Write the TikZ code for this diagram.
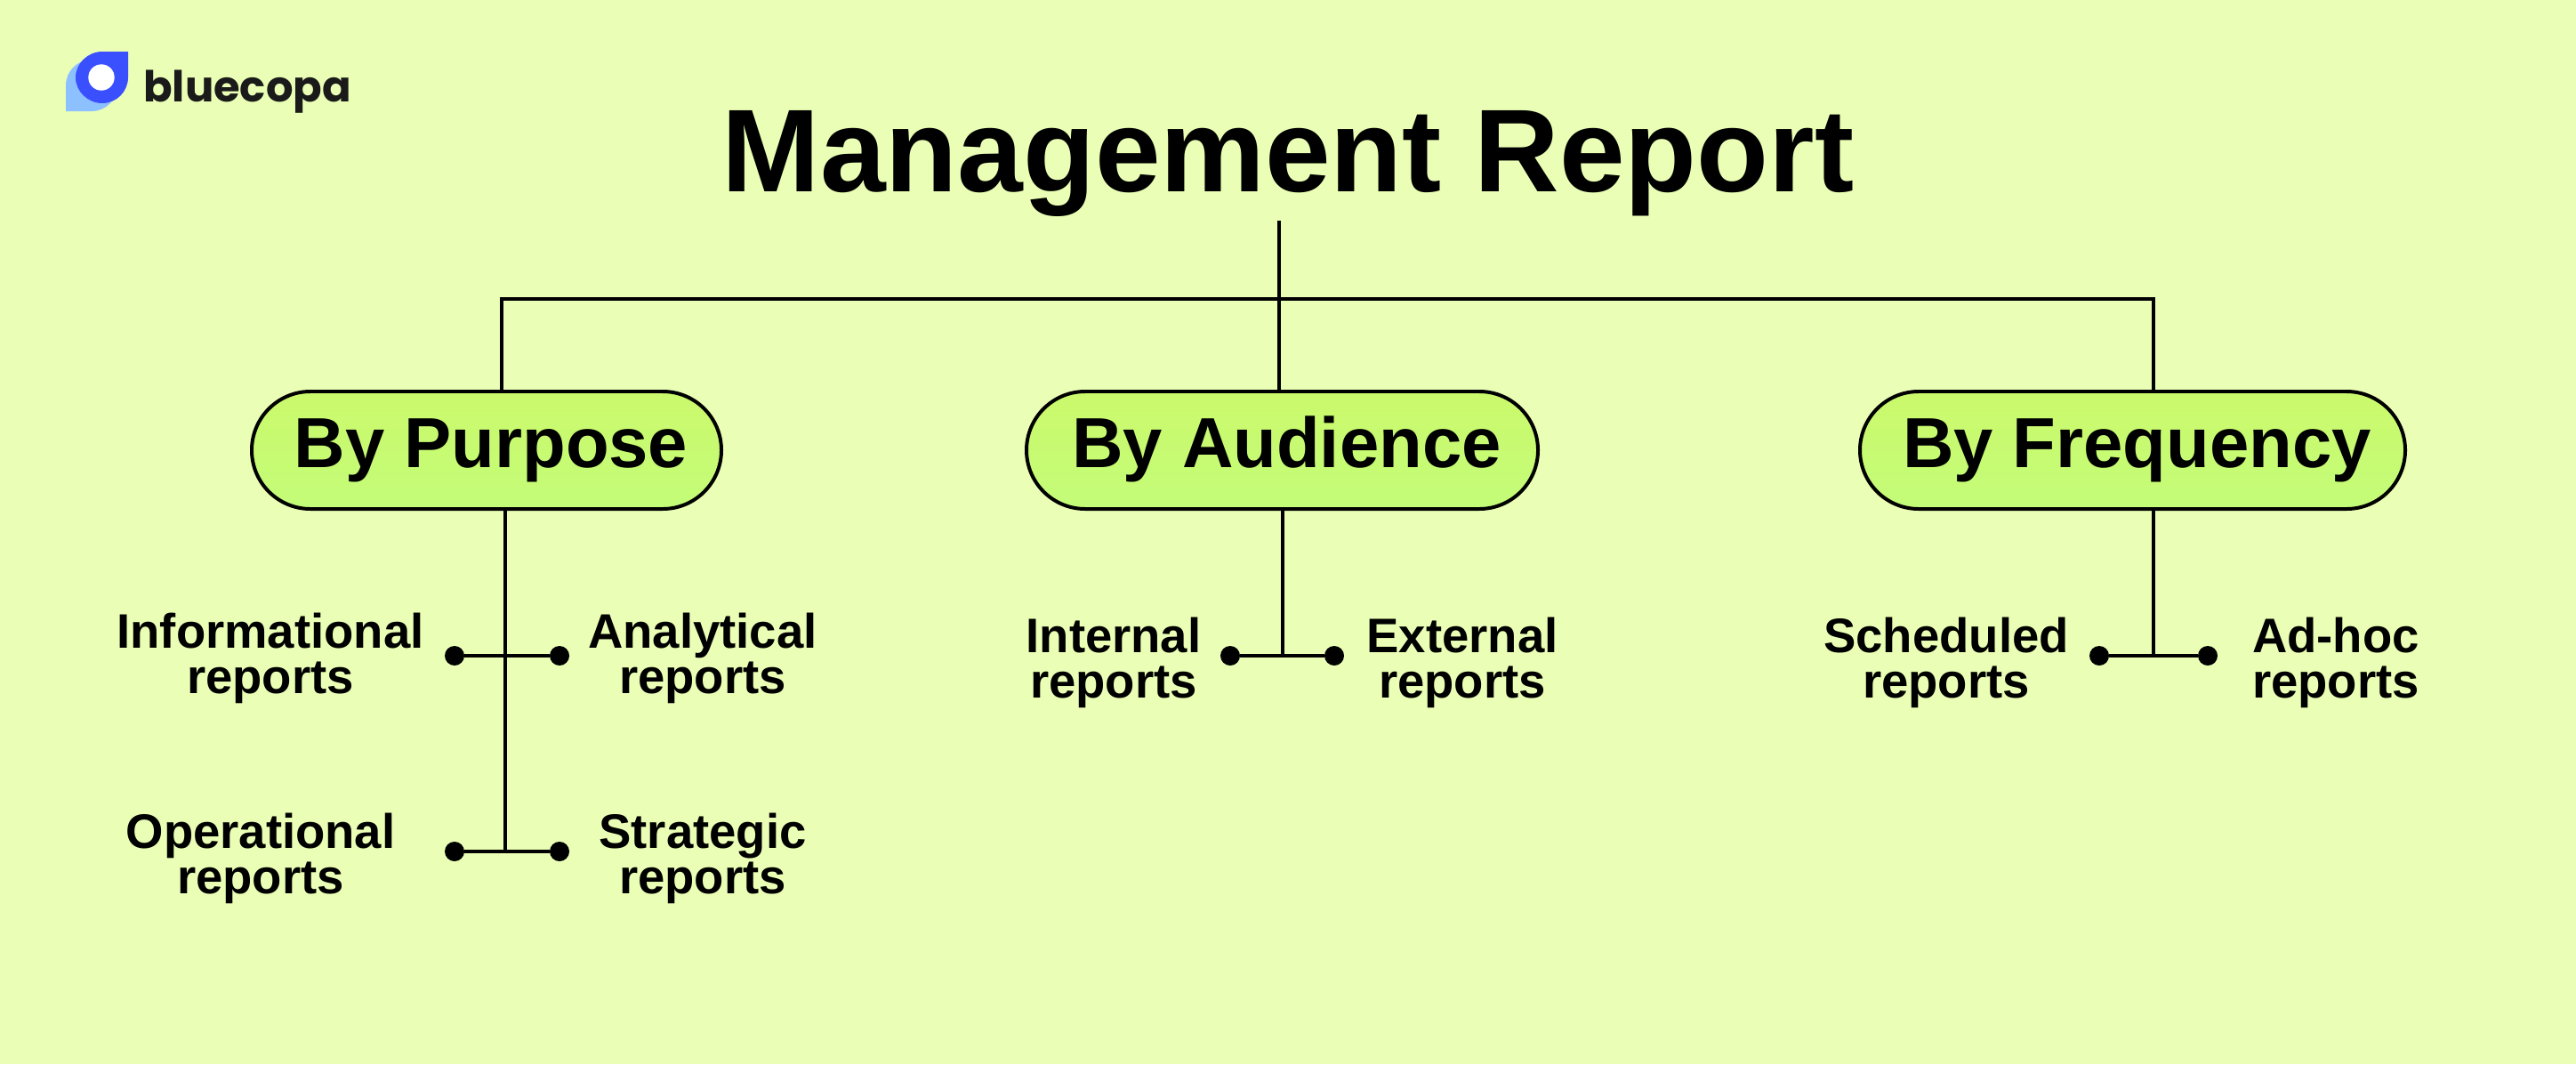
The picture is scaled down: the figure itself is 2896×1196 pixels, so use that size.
\documentclass[tikz,border=0pt]{standalone}
\usepackage{fontspec}
\setmainfont{Liberation Sans}
\newfontfamily\logofont{Poppins}
\definecolor{bgc}{HTML}{EAFFB5}
\definecolor{pilltop}{HTML}{CBF96C}
\definecolor{pillbot}{HTML}{C3FC78}
\definecolor{ink}{HTML}{000000}
\definecolor{logoink}{HTML}{1A1A1A}
\definecolor{lblue}{HTML}{8DC0FF}
\definecolor{dblue}{HTML}{3A50FF}
\tikzset{
 px/.style={x=0.03cm,y=-0.03cm},
 pillbox/.style={draw=ink,line width=3.4pt,top color=pilltop,bottom color=pillbot,rounded corners=1.98cm,minimum height=3.96cm,inner sep=0pt,text height=48pt,text depth=14pt,font=\fontsize{68}{68}\selectfont\bfseries,text=ink},
 lbl/.style={font=\fontsize{46.5}{44}\selectfont\bfseries,text=ink,align=center,inner sep=0pt},
 conn/.style={draw=ink,line width=3.4pt},
 dotn/.style={circle,fill=ink,inner sep=0pt,minimum size=0.66cm},
}
\begin{document}
\begin{tikzpicture}[px]
\useasboundingbox (0,0) rectangle (2896,1196);
\fill[bgc] (0,0) rectangle (2896,1196);
% logo
\fill[lblue] (74,125) -- (74,96) .. controls (74,80) and (87,67) .. (103,67) .. controls (119,67) and (132,80) .. (132,96) .. controls (132,112) and (119,125) .. (103,125) -- cycle;
\fill[dblue] (144,58) -- (144,87) .. controls (144,103) and (131,116) .. (115,116) .. controls (99,116) and (85,103) .. (85,87) .. controls (85,71) and (99,58) .. (115,58) -- cycle;
\fill[white] (114,87) circle[radius=14.7];
\node[font=\logofont\fontsize{41}{41}\selectfont\bfseries,text=logoink,anchor=west,inner sep=0pt] (logo) at (161,103) {bluecopa};
% title
\node[font=\fontsize{113}{113}\selectfont\bfseries,text=ink,inner sep=0pt] (title) at (1448,184) {Management Report};
% category pills
\node[pillbox,minimum width=15.84cm] (p1) at (547,506) {\hspace*{0.3cm}By Purpose};
\node[pillbox,minimum width=17.25cm] (p2) at (1441.5,506) {\hspace*{0.3cm}By Audience};
\node[pillbox,minimum width=18.39cm] (p3) at (2397.5,506) {\hspace*{0.3cm}By Frequency};
% leaf labels
\node[lbl] (l1) at (304,740) {Informational\\reports};
\node[lbl] (l2) at (790,740) {Analytical\\reports};
\node[lbl] (l3) at (293,965) {Operational\\reports};
\node[lbl] (l4) at (790,965) {Strategic\\reports};
\node[lbl] (l5) at (1252,745) {Internal\\reports};
\node[lbl] (l6) at (1644,745) {External\\reports};
\node[lbl] (l7) at (2188,745) {Scheduled\\reports};
\node[lbl] (l8) at (2626,745) {Ad-hoc\\reports};
% dots
\node[dotn] (d1) at (511,737) {};
\node[dotn] (d2) at (629,737) {};
\node[dotn] (d3) at (511,957) {};
\node[dotn] (d4) at (629,957) {};
\node[dotn] (d5) at (1383,737) {};
\node[dotn] (d6) at (1500,737) {};
\node[dotn] (d7) at (2360,737) {};
\node[dotn] (d8) at (2482,737) {};
% junctions
\coordinate (stem) at (1438,248);
\coordinate (bus) at (1438,336);
\coordinate (a1) at (564,439);
\coordinate (a3) at (2421,439);
\coordinate (j1) at (568,737);
\coordinate (j2) at (568,957);
\coordinate (j3) at (1442,737);
\coordinate (j4) at (2421,737);
% connectors
\draw[conn] (stem) -- (stem |- p2.north);
\draw[conn,line join=miter] (a1) |- (bus) -| (a3);
\draw[conn] (j1 |- p1.south) -- (j2);
\draw[conn] (d1) -- (d2);
\draw[conn] (d3) -- (d4);
\draw[conn] (j3 |- p2.south) -- (j3);
\draw[conn] (d5) -- (d6);
\draw[conn] (j4 |- p3.south) -- (j4);
\draw[conn] (d7) -- (d8);
\end{tikzpicture}
\end{document}
